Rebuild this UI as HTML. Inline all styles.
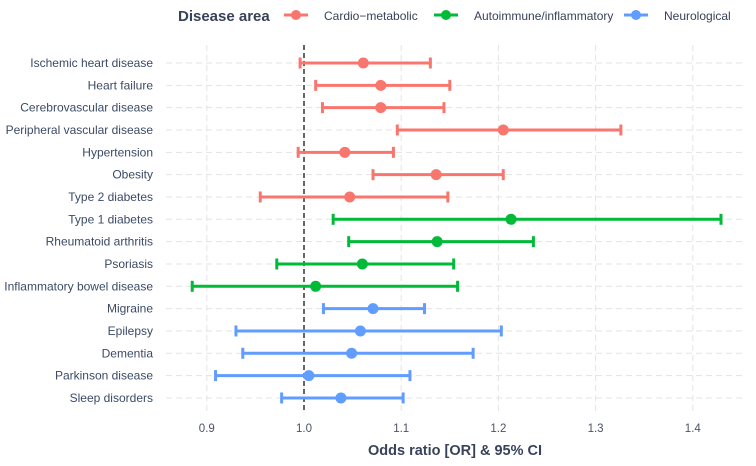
<!DOCTYPE html>
<html><head><meta charset="utf-8"><style>
body{margin:0;background:#fff;}
svg{display:block;font-family:"Liberation Sans",Arial,sans-serif;}
</style></head><body>
<svg id="chart" width="756" height="466">
<g id="grid"></g>
<g id="marks"></g>
<g id="labels"></g>
<g>
<text x="178" y="21" font-size="15" font-weight="bold" fill="#384259">Disease area</text>
<g><line x1="284" x2="308" y1="15" y2="15" stroke="#F8766D" stroke-width="3"/><circle cx="296" cy="15" r="5" fill="#F8766D"/><text x="324" y="20" font-size="12" fill="#384259">Cardio−metabolic</text></g>
<g><line x1="434" x2="458" y1="15" y2="15" stroke="#00BA38" stroke-width="3"/><circle cx="446" cy="15" r="5" fill="#00BA38"/><text x="474" y="20" font-size="12" fill="#384259">Autoimmune/inflammatory</text></g>
<g><line x1="624" x2="648" y1="15" y2="15" stroke="#619CFF" stroke-width="3"/><circle cx="636" cy="15" r="5" fill="#619CFF"/><text x="664" y="20" font-size="12" fill="#384259">Neurological</text></g>
</g>
<text x="455" y="455" font-size="14.5" font-weight="bold" fill="#384259" text-anchor="middle">Odds ratio [OR] &amp; 95% CI</text>
</svg>
<script>
const categories=["Ischemic heart disease","Heart failure","Cerebrovascular disease","Peripheral vascular disease","Hypertension","Obesity","Type 2 diabetes","Type 1 diabetes","Rheumatoid arthritis","Psoriasis","Inflammatory bowel disease","Migraine","Epilepsy","Dementia","Parkinson disease","Sleep disorders"];
const groups=["c","c","c","c","c","c","c","a","a","a","a","n","n","n","n","n"];
const orValues=[1.061,1.079,1.079,1.205,1.042,1.136,1.047,1.213,1.137,1.060,1.012,1.071,1.058,1.049,1.005,1.038];
const lowerCI=[0.996,1.012,1.019,1.096,0.994,1.071,0.955,1.030,1.046,0.972,0.885,1.020,0.930,0.937,0.909,0.977];
const upperCI=[1.130,1.150,1.144,1.326,1.092,1.205,1.148,1.429,1.236,1.154,1.158,1.124,1.203,1.174,1.109,1.102];
const xTicks=[0.9,1.0,1.1,1.2,1.3,1.4];
const colors={c:"#F8766D",a:"#00BA38",n:"#619CFF"};
const NS="http://www.w3.org/2000/svg";
const X=v=>304+(v-1)*972;
const Y=i=>63+i*22.33;
function mk(tag,attrs,parent){const e=document.createElementNS(NS,tag);for(const k in attrs)e.setAttribute(k,attrs[k]);parent.appendChild(e);return e;}
const grid=document.getElementById('grid'),marks=document.getElementById('marks'),labels=document.getElementById('labels');
xTicks.forEach(t=>{
 const l=mk('line',{x1:X(t),x2:X(t),y1:45,y2:412,stroke:'#e3e3e3','stroke-dasharray':'6,4'},grid);
 
 
 const tx=mk('text',{x:X(t),y:432,'font-size':11.5,fill:'#4d5366','text-anchor':'middle'},labels);
 tx.textContent=t.toFixed(1);
 
 
});
categories.forEach((c,i)=>{
 const l=mk('line',{x1:166,x2:745,y1:Y(i),y2:Y(i),stroke:'#e3e3e3','stroke-dasharray':'6,4'},grid);
 
 
 const tx=mk('text',{x:153,y:Y(i)+4,'font-size':12,fill:'#3b4a66','text-anchor':'end'},labels);
 tx.textContent=c;
 
 
});
const ref=mk('line',{x1:X(1),x2:X(1),y1:45,y2:412,stroke:'#000','stroke-width':1.2,'stroke-dasharray':'5,3'},marks);


categories.forEach((c,i)=>{
 const col=colors[groups[i]],y=Y(i);
 const g=mk('g',{},marks);
 
 
 mk('line',{x1:X(lowerCI[i]),x2:X(upperCI[i]),y1:y,y2:y,stroke:col,'stroke-width':3},g);
 mk('line',{x1:X(lowerCI[i]),x2:X(lowerCI[i]),y1:y-5.5,y2:y+5.5,stroke:col,'stroke-width':3},g);
 mk('line',{x1:X(upperCI[i]),x2:X(upperCI[i]),y1:y-5.5,y2:y+5.5,stroke:col,'stroke-width':3},g);
 mk('circle',{cx:X(orValues[i]),cy:y,r:5.5,fill:col},g);
});
</script>
</body></html>
